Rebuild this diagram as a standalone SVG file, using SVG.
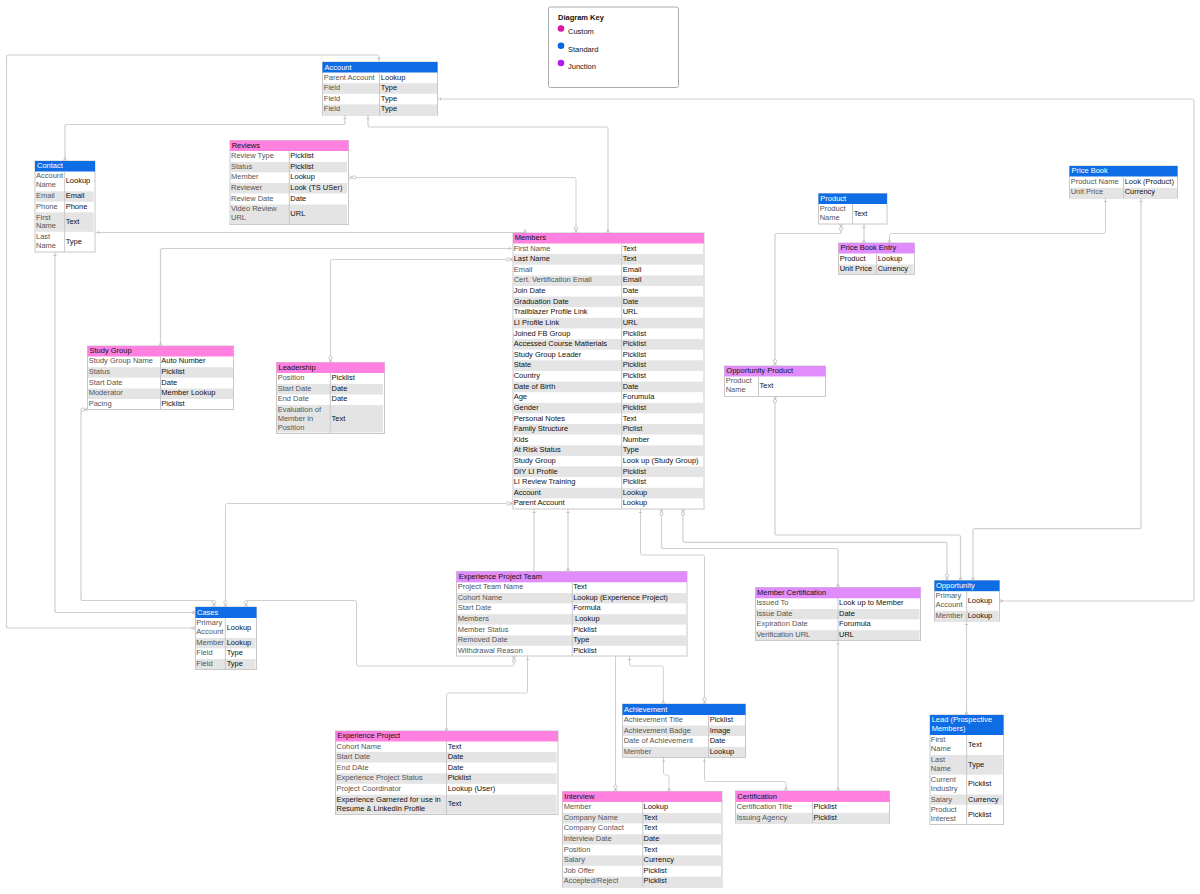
<svg xmlns="http://www.w3.org/2000/svg" width="1200" height="894" viewBox="0 0 1200 894">
<style>
text{font-family:"Liberation Sans",Arial,sans-serif;font-size:7.5px;fill:#111}
.l{fill:#555}
.hw{fill:#fff}
.b{fill:#fff;stroke:#c8c8c8;stroke-width:1}
.s{stroke:#c8c8c8;stroke-width:1}
.a{fill:#e4e4e4}
.bl{fill:#0e6de4}
.ma{fill:#ff80df}
.pu{fill:#e08cfb}
#connectors path{fill:none;stroke:#d0d0d0;stroke-width:1}
#connectors path.hv{stroke-width:1.2}
</style>
<defs>
<marker id="one" viewBox="0 0 8 8" refX="7" refY="4" markerWidth="8" markerHeight="8" markerUnits="userSpaceOnUse" orient="auto-start-reverse"><path d="M3.5 2.4V5.6" fill="none" stroke="#b5b5b5" stroke-width=".7"/></marker>
<marker id="many" viewBox="0 0 8 8" refX="7" refY="4" markerWidth="8" markerHeight="8" markerUnits="userSpaceOnUse" orient="auto-start-reverse"><path d="M3.5 4L7 2.2M3.5 4L7 5.8" fill="none" stroke="#b5b5b5" stroke-width=".7"/></marker>
<marker id="zm" viewBox="0 0 10 8" refX="9" refY="4" markerWidth="10" markerHeight="8" markerUnits="userSpaceOnUse" orient="auto-start-reverse"><path d="M6 4L9 2.2M6 4L9 5.8" fill="none" stroke="#b5b5b5" stroke-width=".7"/><circle cx="4.3" cy="4" r="1.7" fill="#fff" stroke="#b5b5b5" stroke-width=".7"/></marker>
</defs>
<rect width="1200" height="894" fill="#fff"/>

<g id="connectors">
<path class="hv" marker-start="url(#one)" marker-end="url(#many)" d="M379 62V57Q379 55 377 55H9Q6.500 55 6.500 57V626Q6.500 628 9 628H195"/>
<path class="hv" marker-start="url(#one)" marker-end="url(#many)" d="M55 252V610.500Q55 612.500 57 612.500H195"/>
<path class="hv" marker-start="url(#one)" marker-end="url(#many)" d="M345 115V122.500Q345 124.500 343 124.500H67Q65 124.500 65 126.500V161"/>
<path class="hv" marker-start="url(#one)" marker-end="url(#many)" d="M368 115V125Q368 127 370 127H606Q608 127 608 129V233"/>
<path class="hv" marker-start="url(#one)" marker-end="url(#many)" d="M437 99H1192Q1194 99 1194 101V599Q1194 601 1192 601H999.500"/>
<path marker-start="url(#zm)" marker-end="url(#zm)" d="M349.500 177.500H574Q576 177.500 576 179.500V233"/>
<path class="hv" marker-start="url(#one)" marker-end="url(#many)" d="M95 232.500H525V233"/>
<path class="hv" marker-start="url(#many)" marker-end="url(#one)" d="M160.500 346V250.500Q160.500 248.500 162.500 248.500H513"/>
<path marker-start="url(#zm)" marker-end="url(#zm)" d="M330.500 362.500V261.500Q330.500 259.500 332.500 259.500H513"/>
<path class="hv" marker-start="url(#zm)" marker-end="url(#zm)" d="M87.500 409.500H83Q81 409.500 81 411.500V598.500Q81 600.500 83 600.500H212Q214 600.500 214 602.500V607"/>
<path marker-start="url(#zm)" marker-end="url(#zm)" d="M513 503.500H227.500Q225.500 503.500 225.500 505.500V607"/>
<path marker-start="url(#zm)" marker-end="url(#zm)" d="M514 656V664Q514 666 512 666H358.500Q356.500 666 356.500 664V602.500Q356.500 600.500 354.500 600.500H248Q246 600.500 246 602.500V607"/>
<path marker-start="url(#one)" marker-end="url(#many)" d="M527.500 656V691Q527.500 693 525.500 693H448.500Q446.500 693 446.500 695V731"/>
<path class="hv" marker-start="url(#one)" d="M534 509V571.500"/>
<path class="hv" marker-start="url(#one)" marker-end="url(#many)" d="M568 509V571.500"/>
<path marker-start="url(#one)" marker-end="url(#zm)" d="M640.500 509V553Q640.500 555 642.500 555H702.500Q704.500 555 704.500 557V704"/>
<path class="hv" marker-start="url(#zm)" marker-end="url(#many)" d="M661.500 509V546.500Q661.500 548.500 663.500 548.500H836Q838 548.500 838 550.500V587.500"/>
<path class="hv" marker-start="url(#zm)" marker-end="url(#zm)" d="M683 509V540Q683 542.300 685 542.300H945Q947 542.300 947 544.300V580.500"/>
<path class="hv" marker-start="url(#zm)" marker-end="url(#many)" d="M775 396.500V533Q775 535 777 535H958.500Q960.500 535 960.500 537V580.500"/>
<path class="hv" marker-start="url(#one)" marker-end="url(#many)" d="M1141 198V526.700Q1141 528.700 1139 528.700H975Q973 528.700 973 530.700V580.500"/>
<path marker-start="url(#one)" marker-end="url(#many)" d="M1105.500 198V231.500Q1105.500 233.500 1103.500 233.500H891.500Q889.500 233.500 889.500 235.500V243"/>
<path class="hv" marker-start="url(#one)" marker-end="url(#many)" d="M864 224V243"/>
<path class="hv" marker-start="url(#zm)" marker-end="url(#zm)" d="M841 224V231.500Q841 233.500 839 233.500H777Q775 233.500 775 235.500V366"/>
<path marker-end="url(#zm)" d="M615.500 656V791.500"/>
<path marker-start="url(#one)" marker-end="url(#many)" d="M629.500 656V664Q629.500 666 631.500 666H661.300Q663.300 666 663.300 668V704"/>
<path marker-start="url(#one)" marker-end="url(#many)" d="M663.500 757.500V773Q663.500 775 665.500 775H667Q669 775 669 777V791.500"/>
<path marker-start="url(#one)" marker-end="url(#many)" d="M704.500 757.500V779.500Q704.500 781.500 706.500 781.500H784Q786 781.500 786 783.500V791"/>
<path class="hv" marker-start="url(#one)" marker-end="url(#many)" d="M838 640.500V791"/>
<path class="hv" marker-start="url(#one)" marker-end="url(#many)" d="M966.500 621V715"/>
</g>

<g id="key">
<rect x="548.500" y="7" width="130" height="80.500" rx="2" fill="#fff" stroke="#aaa"/>
<text x="558" y="20" style="font-weight:bold">Diagram Key</text>
<circle cx="561" cy="28.500" r="3.300" fill="#dc14a5"/><text x="568" y="34">Custom</text>
<circle cx="561" cy="45.700" r="3.300" fill="#0a66e4"/><text x="568" y="51.500">Standard</text>
<circle cx="561" cy="63" r="3.300" fill="#b01cf0"/><text x="568" y="69">Junction</text>
</g>

<g id="account">
<rect class="b" x="322.500" y="62" width="115" height="53"/>
<rect class="bl" x="322.500" y="62" width="115" height="10.500"/>
<rect class="a" x="323" y="83.200" width="114" height="10.600"/><rect class="a" x="323" y="104.400" width="114" height="10"/>
<path class="s" d="M379.500 72.500V115"/>
<text class="hw" x="324.500" y="69.500">Account</text>
<text class="l" x="323.800" y="79.500">Parent Account</text><text x="380.800" y="79.500">Lookup</text>
<text class="l" x="323.800" y="90">Field</text><text x="380.800" y="90">Type</text>
<text class="l" x="323.800" y="100.700">Field</text><text x="380.800" y="100.700">Type</text>
<text class="l" x="323.800" y="111.300">Field</text><text x="380.800" y="111.300">Type</text>
</g>

<g id="contact">
<rect class="b" x="35" y="161" width="60" height="91"/>
<rect class="bl" x="35" y="161" width="60" height="10.500"/>
<rect class="a" x="35.500" y="191.300" width="58" height="10.400"/><rect class="a" x="35.500" y="212.300" width="58" height="19.500"/>
<path class="s" d="M64.700 171.500V252"/>
<text class="hw" x="37" y="168">Contact</text>
<text class="l" x="36" y="178.300">Account</text><text class="l" x="36" y="187.300">Name</text><text x="65.700" y="182.800">Lookup</text>
<text class="l" x="36" y="198.200">Email</text><text x="65.700" y="198.200">Email</text>
<text class="l" x="36" y="208.700">Phone</text><text x="65.700" y="208.700">Phone</text>
<text class="l" x="36" y="219.500">First</text><text class="l" x="36" y="228.300">Name</text><text x="65.700" y="224">Text</text>
<text class="l" x="36" y="239">Last</text><text class="l" x="36" y="248">Name</text><text x="65.700" y="243.700">Type</text>
</g>

<g id="reviews">
<rect class="b" x="230" y="140.500" width="118.500" height="84"/>
<rect class="ma" x="230" y="140.500" width="118.500" height="10.500"/>
<rect class="a" x="230.500" y="162" width="116.500" height="10.300"/><rect class="a" x="230.500" y="183" width="116.500" height="10.500"/><rect class="a" x="230.500" y="204.500" width="116.500" height="19.500"/>
<path class="s" d="M289.300 151V224.500"/>
<text x="231.700" y="147.700">Reviews</text>
<text class="l" x="231" y="158">Review Type</text><text x="290.300" y="158">Picklist</text>
<text class="l" x="231" y="168.700">Status</text><text x="290.300" y="168.700">Picklist</text>
<text class="l" x="231" y="179.300">Member</text><text x="290.300" y="179.300">Lookup</text>
<text class="l" x="231" y="190">Reviewer</text><text x="290.300" y="190">Look (TS USer)</text>
<text class="l" x="231" y="200.600">Review Date</text><text x="290.300" y="200.600">Date</text>
<text class="l" x="231" y="211.200">Video Review</text><text class="l" x="231" y="220.200">URL</text><text x="290.300" y="215.800">URL</text>
</g>

<g id="members">
<rect class="b" x="513" y="233" width="191" height="276"/>
<rect class="ma" x="513" y="233" width="191" height="10.500"/>
<rect class="a" x="513.500" y="254.100" width="190" height="10.600"/><rect class="a" x="513.500" y="275.400" width="190" height="10.600"/><rect class="a" x="513.500" y="296.600" width="190" height="10.600"/><rect class="a" x="513.500" y="317.800" width="190" height="10.600"/><rect class="a" x="513.500" y="339.100" width="190" height="10.600"/><rect class="a" x="513.500" y="360.300" width="190" height="10.600"/><rect class="a" x="513.500" y="381.600" width="190" height="10.600"/><rect class="a" x="513.500" y="402.800" width="190" height="10.600"/><rect class="a" x="513.500" y="424" width="190" height="10.600"/><rect class="a" x="513.500" y="445.300" width="190" height="10.600"/><rect class="a" x="513.500" y="466.500" width="190" height="10.600"/><rect class="a" x="513.500" y="487.800" width="190" height="10.600"/>
<path class="s" d="M621.700 243.500V509"/>
<text x="514.700" y="239.800">Members</text>
<text class="l" x="513.700" y="250.500">First Name</text><text x="622.700" y="250.500">Text</text>
<text x="513.700" y="261.100">Last Name</text><text x="622.700" y="261.100">Text</text>
<text class="l" x="513.700" y="271.700">Email</text><text x="622.700" y="271.700">Email</text>
<text class="l" x="513.700" y="282.400">Cert. Vertification Email</text><text x="622.700" y="282.400">Email</text>
<text x="513.700" y="293">Join Date</text><text x="622.700" y="293">Date</text>
<text x="513.700" y="303.600">Graduation Date</text><text x="622.700" y="303.600">Date</text>
<text x="513.700" y="314.200">Trailblazer Profile Link</text><text x="622.700" y="314.200">URL</text>
<text x="513.700" y="324.900">LI Profile Link</text><text x="622.700" y="324.900">URL</text>
<text x="513.700" y="335.500">Joined FB Group</text><text x="622.700" y="335.500">Picklist</text>
<text x="513.700" y="346.100">Accessed Course Matterials</text><text x="622.700" y="346.100">Picklist</text>
<text x="513.700" y="356.700">Study Group Leader</text><text x="622.700" y="356.700">Picklist</text>
<text x="513.700" y="367.300">State</text><text x="622.700" y="367.300">Picklist</text>
<text x="513.700" y="378">Country</text><text x="622.700" y="378">Picklist</text>
<text x="513.700" y="388.600">Date of Birth</text><text x="622.700" y="388.600">Date</text>
<text x="513.700" y="399.200">Age</text><text x="622.700" y="399.200">Forumula</text>
<text x="513.700" y="409.800">Gender</text><text x="622.700" y="409.800">Picklist</text>
<text x="513.700" y="420.500">Personal Notes</text><text x="622.700" y="420.500">Text</text>
<text x="513.700" y="431.100">Family Structure</text><text x="622.700" y="431.100">Piclist</text>
<text x="513.700" y="441.700">Kids</text><text x="622.700" y="441.700">Number</text>
<text x="513.700" y="452.300">At Risk Status</text><text x="622.700" y="452.300">Type</text>
<text x="513.700" y="462.900">Study Group</text><text x="622.700" y="462.900">Look up (Study Group)</text>
<text x="513.700" y="473.600">DIY LI Profile</text><text x="622.700" y="473.600">Picklist</text>
<text x="513.700" y="484.200">LI Review Training</text><text x="622.700" y="484.200">Picklist</text>
<text x="513.700" y="494.800">Account</text><text x="622.700" y="494.800">Lookup</text>
<text x="513.700" y="505.400">Parent Account</text><text x="622.700" y="505.400">Lookup</text>
</g>

<g id="study-group">
<rect class="b" x="87.500" y="346" width="146" height="63.500"/>
<rect class="ma" x="87.500" y="346" width="146" height="10.500"/>
<rect class="a" x="88" y="367.200" width="145" height="10.500"/><rect class="a" x="88" y="388.500" width="145" height="10.500"/>
<path class="s" d="M160.500 356.500V409.500"/>
<text x="89.500" y="353">Study Group</text>
<text class="l" x="88.700" y="363.300">Study Group Name</text><text x="161.300" y="363.300">Auto Number</text>
<text class="l" x="88.700" y="374">Status</text><text x="161.300" y="374">Picklist</text>
<text class="l" x="88.700" y="384.700">Start Date</text><text x="161.300" y="384.700">Date</text>
<text class="l" x="88.700" y="395.300">Moderator</text><text x="161.300" y="395.300">Member Lookup</text>
<text class="l" x="88.700" y="405.800">Pacing</text><text x="161.300" y="405.800">Picklist</text>
</g>

<g id="leadership">
<rect class="b" x="276.500" y="362.500" width="108" height="71"/>
<rect class="ma" x="276.500" y="362.500" width="108" height="10.500"/>
<rect class="a" x="277" y="384" width="106" height="10.500"/><rect class="a" x="277" y="405" width="106" height="27.500"/>
<path class="s" d="M330.300 373V433.500"/>
<text x="278.500" y="369.700">Leadership</text>
<text class="l" x="277.700" y="380">Position</text><text x="331.500" y="380">Picklist</text>
<text class="l" x="277.700" y="390.700">Start Date</text><text x="331.500" y="390.700">Date</text>
<text class="l" x="277.700" y="401.300">End Date</text><text x="331.500" y="401.300">Date</text>
<text class="l" x="277.700" y="411.800">Evaluation of</text><text class="l" x="277.700" y="420.800">Member in</text><text class="l" x="277.700" y="429.800">Position</text><text x="331.500" y="421">Text</text>
</g>

<g id="cases">
<rect class="b" x="195.500" y="607" width="61" height="62.500"/>
<rect class="bl" x="195.500" y="607" width="61" height="11"/>
<rect class="a" x="196" y="638" width="59.500" height="10.300"/><rect class="a" x="196" y="659" width="59.500" height="10"/>
<path class="s" d="M225.300 618V669.500"/>
<text class="hw" x="197" y="614.500">Cases</text>
<text class="l" x="196.300" y="625">Primary</text><text class="l" x="196.300" y="634">Account</text><text x="226.700" y="629.500">Lookup</text>
<text class="l" x="196.300" y="644.500">Member</text><text x="226.700" y="644.500">Lookup</text>
<text class="l" x="196.300" y="655">Field</text><text x="226.700" y="655">Type</text>
<text class="l" x="196.300" y="665.700">Field</text><text x="226.700" y="665.700">Type</text>
</g>

<g id="experience-project-team">
<rect class="b" x="456.500" y="571.500" width="230.500" height="84.500"/>
<rect class="pu" x="456.500" y="571.500" width="230.500" height="10.800"/>
<rect class="a" x="457" y="593" width="229" height="10.400"/><rect class="a" x="457" y="614.200" width="229" height="10.400"/><rect class="a" x="457" y="635.400" width="229" height="10.400"/>
<path class="s" d="M572.300 582.300V656"/>
<text x="458.700" y="578.800">Experience Project Team</text>
<text class="l" x="457.700" y="589">Project Team Name</text><text x="573.200" y="589">Text</text>
<text class="l" x="457.700" y="599.700">Cohort Name</text><text x="573.200" y="599.700">Lookup (Experience Project)</text>
<text class="l" x="457.700" y="610.300">Start Date</text><text x="573.200" y="610.300">Formula</text>
<text class="l" x="457.700" y="621">Members</text><text x="575" y="621">Lookup</text>
<text class="l" x="457.700" y="631.600">Member Status</text><text x="573.200" y="631.600">Picklist</text>
<text class="l" x="457.700" y="642.200">Removed Date</text><text x="573.200" y="642.200">Type</text>
<text class="l" x="457.700" y="652.800">Withdrawal Reason</text><text x="573.200" y="652.800">Picklist</text>
</g>

<g id="experience-project">
<rect class="b" x="335.500" y="731" width="222.500" height="83.500"/>
<rect class="ma" x="335.500" y="731" width="222.500" height="10.500"/>
<rect class="a" x="336" y="752" width="220.500" height="10.500"/><rect class="a" x="336" y="773.300" width="220.500" height="10.500"/><rect class="a" x="336" y="794.700" width="220.500" height="19"/>
<path class="s" d="M446.500 741.500V814.500"/>
<text x="337.200" y="738">Experience Project</text>
<text class="l" x="336.500" y="748.500">Cohort Name</text><text x="447.700" y="748.500">Text</text>
<text class="l" x="336.500" y="759">Start Date</text><text x="447.700" y="759">Date</text>
<text class="l" x="336.500" y="769.700">End DAte</text><text x="447.700" y="769.700">Date</text>
<text class="l" x="336.500" y="780.300">Experience Project Status</text><text x="447.700" y="780.300">Picklist</text>
<text class="l" x="336.500" y="791">Project Coordinator</text><text x="447.700" y="791">Lookup (User)</text>
<text x="336.500" y="801.500">Experience Garnered for use in</text><text x="336.500" y="810.500">Resume &amp; LinkedIn Profile</text><text x="447.700" y="806">Text</text>
</g>

<g id="achievement">
<rect class="b" x="622.500" y="704" width="123" height="53.500"/>
<rect class="bl" x="622.500" y="704" width="123" height="11"/>
<rect class="a" x="623" y="725.500" width="122" height="10.500"/><rect class="a" x="623" y="746.800" width="122" height="10.200"/>
<path class="s" d="M708.500 715V757.500"/>
<text class="hw" x="624" y="711.500">Achievement</text>
<text class="l" x="623.700" y="721.800">Achievement Title</text><text x="709.700" y="721.800">Picklist</text>
<text class="l" x="623.700" y="732.500">Achievement Badge</text><text x="709.700" y="732.500">Image</text>
<text class="l" x="623.700" y="743">Date of Achievement</text><text x="709.700" y="743">Date</text>
<text class="l" x="623.700" y="753.700">Member</text><text x="709.700" y="753.700">Lookup</text>
</g>

<g id="interview">
<rect class="b" x="562.500" y="791.500" width="159.500" height="95.500"/>
<rect class="ma" x="562.500" y="791.500" width="159.500" height="10.500"/>
<rect class="a" x="563" y="813" width="158.500" height="10.400"/><rect class="a" x="563" y="834.200" width="158.500" height="10.400"/><rect class="a" x="563" y="855.400" width="158.500" height="10.400"/><rect class="a" x="563" y="876.600" width="158.500" height="10"/>
<path class="s" d="M642.800 802V887"/>
<text x="564.300" y="798.700">Interview</text>
<text class="l" x="563.700" y="809">Member</text><text x="643.500" y="809">Lookup</text>
<text class="l" x="563.700" y="819.700">Company Name</text><text x="643.500" y="819.700">Text</text>
<text class="l" x="563.700" y="830.300">Company Contact</text><text x="643.500" y="830.300">Text</text>
<text class="l" x="563.700" y="841">Interview Date</text><text x="643.500" y="841">Date</text>
<text class="l" x="563.700" y="851.600">Position</text><text x="643.500" y="851.600">Text</text>
<text class="l" x="563.700" y="862.200">Salary</text><text x="643.500" y="862.200">Currency</text>
<text class="l" x="563.700" y="872.800">Job Offer</text><text x="643.500" y="872.800">Picklist</text>
<text class="l" x="563.700" y="883.400">Accepted/Reject</text><text x="643.500" y="883.400">Picklist</text>
</g>

<g id="certification">
<rect class="b" x="735.500" y="791" width="154" height="32"/>
<rect class="ma" x="735.500" y="791" width="154" height="11"/>
<rect class="a" x="736" y="812.800" width="153" height="10"/>
<path class="s" d="M812.500 802V823"/>
<text x="737.300" y="798.500">Certification</text>
<text class="l" x="736.700" y="808.800">Certification Title</text><text x="813.500" y="808.800">Picklist</text>
<text class="l" x="736.700" y="819.500">Issuing Agency</text><text x="813.500" y="819.500">Picklist</text>
</g>

<g id="member-certification">
<rect class="b" x="755.500" y="587.500" width="165" height="53"/>
<rect class="pu" x="755.500" y="587.500" width="165" height="10.800"/>
<rect class="a" x="756" y="609" width="163.500" height="10.400"/><rect class="a" x="756" y="630.200" width="163.500" height="9.800"/>
<path class="s" d="M838 598.300V640.500"/>
<text x="757" y="594.500">Member Certification</text>
<text class="l" x="756.500" y="605">Issued To</text><text x="839" y="605">Look up to Member</text>
<text class="l" x="756.500" y="615.700">Issue Date</text><text x="839" y="615.700">Date</text>
<text class="l" x="756.500" y="626.300">Expiration Date</text><text x="839" y="626.300">Forumula</text>
<text class="l" x="756.500" y="636.800">Verification URL</text><text x="839" y="636.800">URL</text>
</g>

<g id="opportunity">
<rect class="b" x="934.500" y="580.500" width="65" height="40.500"/>
<rect class="bl" x="934.500" y="580.500" width="65" height="10.700"/>
<rect class="a" x="935" y="610.800" width="63.500" height="9.700"/>
<path class="s" d="M966.700 591.200V621"/>
<text class="hw" x="936" y="587.700">Opportunity</text>
<text class="l" x="935.500" y="598">Primary</text><text class="l" x="935.500" y="607">Account</text><text x="967.700" y="602.500">Lookup</text>
<text class="l" x="935.500" y="617.500">Member</text><text x="967.700" y="617.500">Lookup</text>
</g>

<g id="lead">
<rect class="b" x="930" y="715" width="73.500" height="109.500"/>
<rect class="bl" x="930" y="715" width="73.500" height="20"/>
<rect class="a" x="930.500" y="755" width="72" height="19.700"/><rect class="a" x="930.500" y="794.500" width="72" height="10.300"/>
<path class="s" d="M966.700 735V824.500"/>
<text class="hw" x="931.700" y="722">Lead (Prospective</text><text class="hw" x="931.700" y="731">Members)</text>
<text class="l" x="930.800" y="742">First</text><text class="l" x="930.800" y="751">Name</text><text x="968" y="746.500">Text</text>
<text class="l" x="930.800" y="761.700">Last</text><text class="l" x="930.800" y="770.700">Name</text><text x="968" y="766.500">Type</text>
<text class="l" x="930.800" y="781.500">Current</text><text class="l" x="930.800" y="790.500">Industry</text><text x="968" y="786">Picklist</text>
<text class="l" x="930.800" y="801.500">Salary</text><text x="968" y="801.500">Currency</text>
<text class="l" x="930.800" y="812">Product</text><text class="l" x="930.800" y="821">Interest</text><text x="968" y="816.500">Picklist</text>
</g>

<g id="opportunity-product">
<rect class="b" x="724.500" y="366" width="101" height="30.500"/>
<rect class="pu" x="724.500" y="366" width="101" height="10.500"/>
<path class="s" d="M758.500 376.500V396.500"/>
<text x="726.300" y="372.800">Opportunity Product</text>
<text class="l" x="725.700" y="383.400">Product</text><text class="l" x="725.700" y="392.400">Name</text><text x="759.500" y="387.800">Text</text>
</g>

<g id="product">
<rect class="b" x="818.500" y="193.500" width="68.500" height="30.500"/>
<rect class="bl" x="818.500" y="193.500" width="68.500" height="10.500"/>
<path class="s" d="M852.500 204V224"/>
<text class="hw" x="820.300" y="200.500">Product</text>
<text class="l" x="819.700" y="211">Product</text><text class="l" x="819.700" y="220">Name</text><text x="853.700" y="215.500">Text</text>
</g>

<g id="price-book-entry">
<rect class="b" x="838.500" y="243" width="76" height="31.500"/>
<rect class="pu" x="838.500" y="243" width="76" height="10.500"/>
<rect class="a" x="839" y="264.500" width="74.500" height="9.500"/>
<path class="s" d="M876.500 253.500V274.500"/>
<text x="840.500" y="250">Price Book Entry</text>
<text x="839.700" y="260.500">Product</text><text x="877.700" y="260.500">Lookup</text>
<text x="839.700" y="271">Unit Price</text><text x="877.700" y="271">Currency</text>
</g>

<g id="price-book">
<rect class="b" x="1069.500" y="166" width="108" height="32"/>
<rect class="bl" x="1069.500" y="166" width="108" height="10.500"/>
<rect class="a" x="1070" y="187.800" width="107" height="10"/>
<path class="s" d="M1123.500 176.500V198"/>
<text class="hw" x="1071.500" y="173">Price Book</text>
<text class="l" x="1070.700" y="183.500">Product Name</text><text x="1124.700" y="183.500">Look (Product)</text>
<text class="l" x="1070.700" y="194.200">Unit Price</text><text x="1124.700" y="194.200">Currency</text>
</g>
</svg>
